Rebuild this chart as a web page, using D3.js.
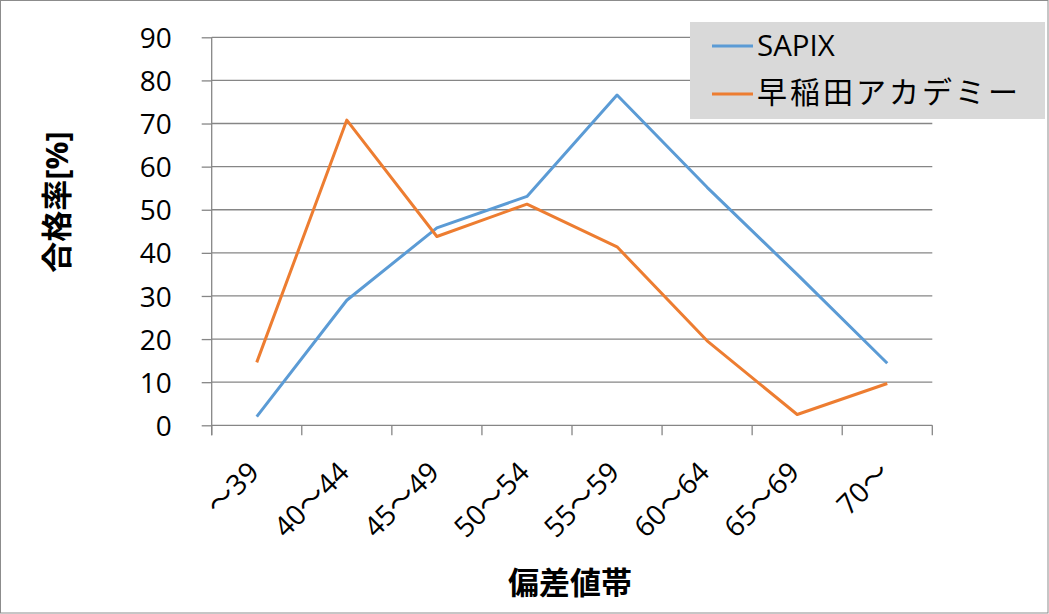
<!DOCTYPE html>
<html><head><meta charset="utf-8">
<script src="https://cdn.jsdelivr.net/npm/d3@7"></script>
<style>
html,body{margin:0;padding:0;background:#fff;}
svg{display:block;font-family:"Open Sans","Noto Sans CJK JP",sans-serif;}
</style></head>
<body>
<script>
const categories = ["〜39","40〜44","45〜49","50〜54","55〜59","60〜64","65〜69","70〜"];
const sapix = [2.0, 29.0, 45.8, 53.1, 76.6, 55.2, 35.0, 14.4];
const waseda = [14.6, 70.8, 43.8, 51.3, 41.4, 19.6, 2.5, 9.7];
const seriesNames = ["SAPIX","早稲田アカデミー"];
const yTicks = [0,10,20,30,40,50,60,70,80,90];
const yTitle = "合格率[%]";
const xTitle = "偏差値帯";
const colors = ["#5b9bd5","#ed7d31"];

const W = 1049, H = 614;
const svg = d3.select("body").append("svg").attr("width", W).attr("height", H);
svg.append("rect").attr("x",0.5).attr("y",0.5).attr("width",W-1.5).attr("height",H-1.5)
  .attr("fill","#fff").attr("stroke","#8c8c8c").attr("stroke-width",1);

const x = d3.scaleBand().domain(categories).range([211.7, 932.3]);
const y = d3.scaleLinear().domain([0,90]).range([425.3, 37.3]);
const gridColor = "#868686";

// gridlines
svg.append("g").selectAll("line").data(yTicks.filter(d=>d>0)).join("line")
  .attr("x1",211.7).attr("x2",932.3).attr("y1",d=>y(d)).attr("y2",d=>y(d))
  .attr("stroke",gridColor).attr("stroke-width",1.3);

// y axis
const yAxis = d3.axisLeft(y).tickValues(yTicks).tickSize(10).tickPadding(30);
const gy = svg.append("g").attr("transform","translate(211.7,0)").call(yAxis);
gy.select(".domain").remove();
gy.selectAll(".tick line").attr("stroke",gridColor).attr("stroke-width",1.3);
gy.selectAll(".tick text").attr("font-size",28).attr("fill","#000")
  .attr("font-family","Open Sans").attr("dy","0.36em");
svg.append("line").attr("x1",211.7).attr("x2",211.7).attr("y1",y(90)).attr("y2",435.3)
  .attr("stroke",gridColor).attr("stroke-width",1.3);

// x axis
const xAxis = d3.axisBottom(x).tickSize(0).tickFormat("");
const gx = svg.append("g").attr("transform",`translate(0,${y(0)})`).call(xAxis);
gx.select(".domain").attr("stroke",gridColor).attr("stroke-width",1.3).attr("d","M211.7,0H932.3");
const bounds = categories.map(c=>x(c)).concat([x.range()[1]]);
svg.append("g").selectAll("line").data(bounds).join("line")
  .attr("x1",d=>d).attr("x2",d=>d).attr("y1",y(0)).attr("y2",y(0)+10)
  .attr("stroke",gridColor).attr("stroke-width",1.3);
svg.append("g").selectAll("text").data(categories).join("text")
  .attr("transform",d=>`translate(${x(d)+x.bandwidth()/2+4},474) rotate(-45)`)
  .attr("text-anchor","end").attr("font-size",28).attr("fill","#000")
  .text(d=>d);

// lines
const line = d3.line().x((d,i)=>x(categories[i])+x.bandwidth()/2).y(d=>y(d));
[sapix, waseda].forEach((s,i)=>{
  svg.append("path").datum(s).attr("d",line).attr("fill","none")
    .attr("stroke",colors[i]).attr("stroke-width",3).attr("stroke-linejoin","round");
});

// legend
const lg = svg.append("g");
lg.append("rect").attr("x",690).attr("y",22).attr("width",355).attr("height",97).attr("fill","#d9d9d9");
const legY = [46, 94];
seriesNames.forEach((n,i)=>{
  lg.append("line").attr("x1",712).attr("x2",753).attr("y1",legY[i]).attr("y2",legY[i])
    .attr("stroke",colors[i]).attr("stroke-width",3);
  lg.append("text").attr("x",757).attr("y", i===0 ? 56 : 103)
    .attr("font-size", i===0 ? 29.5 : 30).attr("fill","#000")
    .attr("letter-spacing", i===0 ? 0 : 3)
    .text(n);
});

// titles
svg.append("text").attr("transform","translate(68,202) rotate(-90)").attr("text-anchor","middle")
  .attr("font-size",31).attr("font-weight","bold").attr("fill","#000").text(yTitle);
svg.append("text").attr("x",570).attr("y",594).attr("text-anchor","middle")
  .attr("font-size",31).attr("font-weight","bold").attr("fill","#000").text(xTitle);
</script>
</body></html>
